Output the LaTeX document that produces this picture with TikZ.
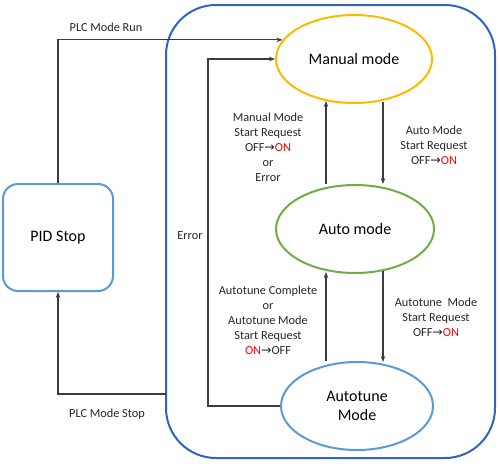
\documentclass[tikz,border=0pt]{standalone}
\usepackage{fontspec}
\setmainfont{Carlito}
\newfontfamily\symf{DejaVu Sans}
\usetikzlibrary{shapes.geometric,arrows.meta}
\definecolor{outerblue}{RGB}{52,98,192}
\definecolor{lightblue}{RGB}{91,155,213}
\definecolor{amber}{RGB}{255,186,0}
\definecolor{grn}{RGB}{112,173,71}
\definecolor{ln}{RGB}{60,60,60}
\newcommand{\arr}{{\symf\fontsize{12.5}{15}\selectfont →}}
\newcommand{\onr}{\textcolor{red}{ON}}
\tikzset{
  state/.style={ellipse,draw,line width=2pt,fill=white,inner sep=0pt,align=center,font=\fontsize{16}{19.5}\selectfont},
  lbl/.style={align=center,inner sep=0pt,text=black!85,font=\fontsize{12.3}{15}\selectfont},
  conn/.style={draw=ln,line width=1.1pt,-{Stealth[length=6pt,width=4.5pt]}},
  plain/.style={draw=ln,line width=1.1pt}
}
\begin{document}
\begin{tikzpicture}[x=1pt,y=-1pt]
\useasboundingbox (0,0) rectangle (500,463);
\node[draw=outerblue,line width=2pt,rounded corners=50pt,minimum width=329pt,minimum height=453pt,inner sep=0pt] (outer) at (330.5,231.5) {};
\node[draw=lightblue,line width=2pt,rounded corners=15pt,minimum width=110pt,minimum height=107pt,inner sep=0pt,font=\fontsize{16}{19.5}\selectfont] (pid) at (58,237.5) {PID Stop};
\node[state,draw=amber,minimum width=156pt,minimum height=88pt] (manual) at (354,59) {Manual mode};
\node[state,draw=grn,minimum width=158pt,minimum height=88pt] (auto) at (355,229) {Auto mode};
\node[state,draw=lightblue,minimum width=152pt,minimum height=88pt] (autotune) at (357,406) {Autotune\\Mode};

\coordinate (ux) at (326,0);
\coordinate (dx) at (383,0);
\coordinate (e1) at (208,406);
\coordinate (e2) at (208,59);
\coordinate (s1) at (166,394);

% PLC Mode Run
\draw[conn] (pid.north) |- (manual.165);
% PLC Mode Stop
\draw[conn] (s1) -| (pid.south);
% Error
\draw[conn] (autotune.west) -- (e1) -- (e2) -- (manual.west);
% Manual <-> Auto
\draw[conn] (auto.north -| ux) -- ([yshift=3pt]manual.south -| ux);
\draw[conn] ([yshift=2pt]manual.south -| dx) -- (auto.north -| dx);
% Auto <-> Autotune
\draw[conn] (autotune.north -| ux) -- ([yshift=2pt]auto.south -| ux);
\draw[conn] ([yshift=3pt]auto.south -| dx) -- ([yshift=-1pt]autotune.north -| dx);

\node[lbl] (lrun) at (106,27) {PLC Mode Run};
\node[lbl] (lstop) at (107,414) {PLC Mode Stop};
\node[lbl] (lerr) at (190,236) {Error};
\node[lbl] (l1) at (268,147) {Manual Mode\\Start Request\\OFF\arr\onr\\or\\Error};
\node[lbl] (l2) at (434,145) {Auto Mode\\Start Request\\OFF\arr\onr};
\node[lbl] (l3) at (268,320) {Autotune Complete\\or\\Autotune  Mode\\Start Request\\\onr\arr OFF};
\node[lbl] (l4) at (436,317) {Autotune\ \ Mode\\Start Request\\OFF\arr\onr};
\end{tikzpicture}
\end{document}
